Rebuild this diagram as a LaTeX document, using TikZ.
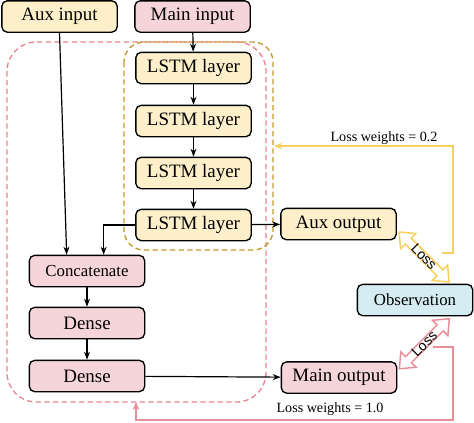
\documentclass[tikz,border=0pt]{standalone}
\usepackage{fontspec}
\setmainfont{Liberation Serif}
\newfontfamily\lsans{Liberation Sans}
\usetikzlibrary{arrows.meta,calc,shapes.arrows}
\definecolor{yfill}{HTML}{FDEFC9}
\definecolor{pfill}{HTML}{F5D5D9}
\definecolor{bfill}{HTML}{D5ECF3}
\definecolor{golddash}{HTML}{C49A2C}
\definecolor{pinkdash}{HTML}{E8848F}
\definecolor{yline}{HTML}{F8D060}
\definecolor{pline}{HTML}{E88E98}
\begin{document}
\begin{tikzpicture}[x=0.75pt,y=-0.75pt,
  box/.style={draw=black, line width=1pt, rounded corners=4pt, minimum width=86.5pt, minimum height=23.5pt, inner sep=0pt, font=\fontsize{14.2}{16}\selectfont},
  smallbox/.style={box, font=\fontsize{12.6}{14}\selectfont},
  arr/.style={-{Stealth[length=6pt,width=4.5pt]}, line width=0.9pt},
  groupbox/.style={dashed, dash pattern=on 4pt off 2.5pt, line width=1pt},
  fb/.style={line width=1.4pt, -{Stealth[length=6pt,width=5pt]}},
  dblarrow/.style={shape=double arrow, fill=white, line width=1.1pt, minimum height=53pt, minimum width=0pt, inner xsep=0pt, inner ysep=2.6pt, double arrow head extend=5pt, double arrow tip angle=80},
  wlabel/.style={font=\fontsize{10.6}{12}\selectfont, inner sep=0pt},
  losslabel/.style={font=\lsans\fontsize{10.5}{12}\selectfont, inner sep=0pt}
]
\useasboundingbox (0,0) rectangle (474,422);

% group frames
\draw[groupbox, draw=pinkdash, rounded corners=22pt] (7,42) rectangle (266,402);
\draw[groupbox, draw=golddash, rounded corners=15pt] (124,42) rectangle (273,250);

% nodes
\node[box, fill=yfill] (aux) at (59.5,16.5) {Aux input};
\node[box, fill=pfill] (main) at (192.5,16.5) {Main input};
\node[box, fill=yfill] (l1) at (193.5,68) {LSTM layer};
\node[box, fill=yfill] (l2) at (193.5,121) {LSTM layer};
\node[box, fill=yfill] (l3) at (193.5,173) {LSTM layer};
\node[box, fill=yfill] (l4) at (193.5,225) {LSTM layer};
\node[smallbox, fill=pfill] (cat) at (87,271) {Concatenate};
\node[box, fill=pfill] (d1) at (87,323) {Dense};
\node[box, fill=pfill] (d2) at (87,376) {Dense};
\node[box, fill=yfill] (aout) at (338.5,224) {Aux output};
\node[smallbox, fill=bfill] (obs) at (415,300) {Observation};
\node[box, fill=pfill] (mout) at (339,377.5) {Main output};

% main flow
\draw[arr] (main) -- (l1);
\draw[arr] (l1) -- (l2);
\draw[arr] (l2) -- (l3);
\draw[arr] (l3) -- (l4);
\draw[arr] (l4) -- (aout);
\draw[arr] (l4.west) -| ($(cat.north west)+(75,0)$);
\draw[arr] (aux.south) -- ($(cat.north west)+(38,0)$);
\draw[arr] (cat) -- (d1);
\draw[arr] (d1) -- (d2);
\draw[arr] (d2) -- (mout);

% loss arrows
\coordinate (ya) at ($(aout.south east)+(1,-8)$);
\coordinate (yb) at ($(obs.north east)+(-23,-2)$);
\coordinate (pa) at ($(mout.north east)+(1,8)$);
\coordinate (pb) at ($(obs.south east)+(-23,2)$);
\node[dblarrow, draw=yline, rotate=-45] (ydbl) at ($(ya)!0.5!(yb)$) {};
\node[dblarrow, draw=pline, rotate=45] (pdbl) at ($(pa)!0.5!(pb)$) {};
\node[losslabel, rotate=-45] (ly) at ($(ya)!0.5!(yb)$) {Loss};
\node[losslabel, rotate=45] (lp) at ($(pa)!0.5!(pb)$) {Loss};

% feedback lines
\coordinate (yfree) at (442,253);
\coordinate (goldin) at (274,146);
\draw[fb, draw=yline] (yfree) -- (453,253) -- (453,146) -- (goldin);
\node[wlabel, anchor=south] (lw2) at (384,145) {Loss weights = 0.2};

\coordinate (pfree) at (433,347);
\coordinate (pinkin) at (136,402);
\draw[fb, draw=pline] (pfree) -- (453,347) -- (453,420) -- (136,420) -- (pinkin);
\node[wlabel] (lw1) at (330,409) {Loss weights = 1.0};
\end{tikzpicture}
\end{document}
